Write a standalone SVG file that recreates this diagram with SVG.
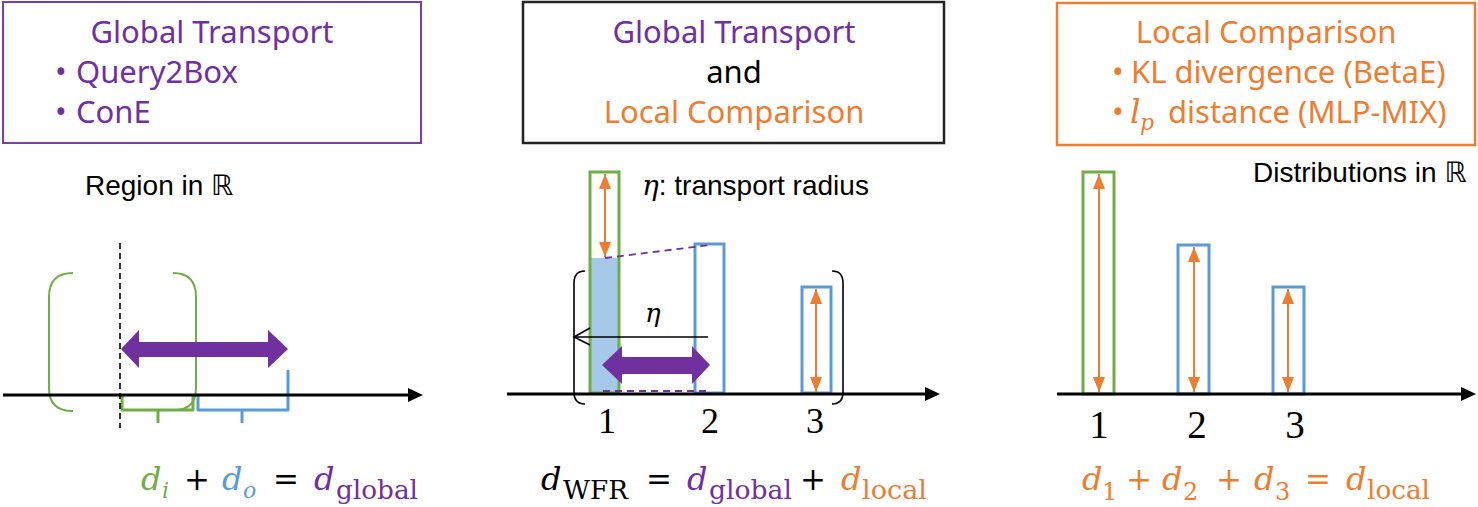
<svg xmlns="http://www.w3.org/2000/svg" width="1478" height="507" viewBox="0 0 1478 507">
<style>
.box{font-family:"Noto Sans","Open Sans",sans-serif;font-size:31px}
.lab{font-family:"Liberation Sans","DejaVu Sans",sans-serif;font-size:28px;fill:#000}
.m{font-family:"DejaVu Serif","Liberation Serif",serif;font-style:italic;font-size:32px}
.mu{font-family:"DejaVu Serif","Liberation Serif",serif;font-size:31px}
.sub{font-family:"DejaVu Serif","Liberation Serif",serif;font-size:26px}
.subi{font-family:"DejaVu Serif","Liberation Serif",serif;font-style:italic;font-size:22px}
.num{font-family:"Liberation Serif","DejaVu Serif",serif;font-size:36px;fill:#000;text-anchor:middle}
.pu{fill:#7030A0}.or{fill:#ED7D31}.gr{fill:#70AD47}.bl{fill:#5B9BD5}.bk{fill:#000}
.axis{stroke:#000;stroke-width:3;fill:none}
.gbar{stroke:#70AD47;stroke-width:3;fill:none}
.bbar{stroke:#5B9BD5;stroke-width:3;fill:none}
.oarr{stroke:#ED7D31;stroke-width:2;fill:none;marker-start:url(#oa);marker-end:url(#oa)}
.pdash{stroke:#7030A0;stroke-width:1.8;fill:none;stroke-dasharray:7,5}
.thin{stroke:#000;stroke-width:1.6;fill:none}
</style>
<defs>
<marker id="oa" viewBox="0 0 15 12" refX="15" refY="6" markerWidth="15" markerHeight="12" markerUnits="userSpaceOnUse" orient="auto-start-reverse">
<path d="M0,0 L15,6 L0,12 z" fill="#ED7D31"/>
</marker>
</defs>
<rect width="1478" height="507" fill="#fff"/>

<!-- Top boxes -->
<g id="box-global">
<rect x="3" y="2" width="418" height="141" fill="#fff" stroke="#7A3DB0" stroke-width="2"/>
<text class="box pu" x="212" y="43" text-anchor="middle">Global Transport</text>
<text class="box pu" x="55" y="83">•</text>
<text class="box pu" x="76" y="83">Query2Box</text>
<text class="box pu" x="55" y="123">•</text>
<text class="box pu" x="76" y="123">ConE</text>
</g>
<g id="box-wfr">
<rect x="523" y="2" width="421" height="141" fill="#fff" stroke="#222" stroke-width="2.5"/>
<text class="box pu" x="734" y="43" text-anchor="middle">Global Transport</text>
<text class="box bk" x="734" y="83" text-anchor="middle">and</text>
<text class="box or" x="734" y="123" text-anchor="middle">Local Comparison</text>
</g>
<g id="box-local">
<rect x="1057" y="3" width="418" height="142" fill="#fff" stroke="#ED7D31" stroke-width="2.5"/>
<text class="box or" x="1266" y="43" text-anchor="middle">Local Comparison</text>
<text class="box or" x="1112" y="83">•</text>
<text class="box or" x="1131" y="83">KL divergence (BetaE)</text>
<text class="box or" x="1112" y="123">•</text>
<text class="m or" x="1130" y="123" style="font-size:33px">l</text>
<text class="subi or" x="1140" y="130">p</text>
<text class="box or" x="1168" y="123">distance (MLP-MIX)</text>
</g>

<!-- Left panel: region -->
<g id="panel-region">
<text class="lab" x="85" y="195">Region in ℝ</text>
<path d="M73,273 Q49,273 49,297 L49,388 Q49,411 73,411" stroke="#70AD47" stroke-width="2" fill="none"/>
<path d="M173,273 Q196,273 196,297 L196,388 Q196,410 174,410" stroke="#70AD47" stroke-width="2" fill="none"/>
<path d="M122,395 V410 H193 V395 M158,410 V423" stroke="#70AD47" stroke-width="3" fill="none" stroke-linejoin="round"/>
<path d="M198,395 V410 H288 V370 M242,410 V423" stroke="#5B9BD5" stroke-width="3" fill="none" stroke-linejoin="round"/>
<path d="M120,243 V428" stroke="#000" stroke-width="1.6" stroke-dasharray="6,4" fill="none"/>
</g>

<!-- Middle panel bars -->
<g id="panel-wfr">
<rect x="590" y="258" width="29" height="135" fill="#A6C8E9"/>
<rect class="gbar" x="590" y="172" width="29" height="221"/>
<rect class="bbar" x="695" y="244" width="29" height="149"/>
<rect class="bbar" x="802" y="287" width="29" height="106"/>
<text class="lab" x="642" y="195"><tspan style="font-family:'DejaVu Serif',serif;font-style:italic">η</tspan>: transport radius</text>
<text class="m bk" x="645" y="322" style="font-size:26px">η</text>
<path class="thin" d="M585,271 Q574,271 574,283 L574,392 Q574,404 585,404"/>
<path class="thin" d="M832,271 Q843,271 843,283 L843,392 Q843,404 832,404"/>
</g>

<!-- Right panel bars -->
<g id="panel-local">
<text class="lab" x="1253" y="182">Distributions in ℝ</text>
<rect class="gbar" x="1083" y="172" width="31" height="222"/>
<rect class="bbar" x="1178" y="245" width="31" height="149"/>
<rect class="bbar" x="1273" y="287" width="31" height="107"/>
</g>

<!-- Connectors / arrows -->
<g id="connectors">
<path class="axis" d="M3,395 H410"/>
<path d="M408,388 L423,395 L408,402 z" fill="#000"/>
<path class="axis" d="M507,394 H927"/>
<path d="M925,387 L940,394 L925,401 z" fill="#000"/>
<path class="axis" d="M1057,394 H1463"/>
<path d="M1461,387 L1476,394 L1461,401 z" fill="#000"/>
<path d="M121,349 L139,330 L139,342 L268,342 L268,330 L288,349 L268,368 L268,357 L139,357 L139,368 z" fill="#7030A0"/>
<path d="M602,365 L622,346 L622,357 L692,357 L692,346 L710,365 L692,384 L692,374 L622,374 L622,384 z" fill="#7030A0"/>
<path class="oarr" d="M605,174 V257"/>
<path class="oarr" d="M816,289 V392"/>
<path class="oarr" d="M1099,174 V392"/>
<path class="oarr" d="M1194,247 V392"/>
<path class="oarr" d="M1288,289 V392"/>
<path class="pdash" d="M605,258 L710,245"/>
<path class="pdash" d="M603,391 H708"/>
<path class="thin" d="M708,337 H574 M590,328 L574,337 L590,345"/>
</g>

<!-- Axis labels -->
<g id="labels">
<text class="num" x="607" y="433" style="font-size:36px">1</text>
<text class="num" x="710" y="433" style="font-size:36px">2</text>
<text class="num" x="815" y="433" style="font-size:36px">3</text>
<text class="num" x="1099" y="438" style="font-size:39px">1</text>
<text class="num" x="1197" y="438" style="font-size:39px">2</text>
<text class="num" x="1295" y="438" style="font-size:39px">3</text>
</g>

<!-- Formulas -->
<g id="formula-global">
<text class="m gr" x="141" y="490">d</text>
<text class="subi gr" x="162" y="498">i</text>
<text class="mu bk" x="184" y="490">+</text>
<text class="m bl" x="222" y="490">d</text>
<text class="subi bl" x="243" y="498">o</text>
<text class="mu bk" x="273" y="490">=</text>
<text class="m pu" x="314" y="490">d</text>
<text class="sub pu" x="336" y="499" textLength="82" lengthAdjust="spacingAndGlyphs">global</text>
</g>
<g id="formula-wfr">
<text class="m bk" x="541" y="490">d</text>
<text class="sub bk" x="563" y="499" textLength="65" lengthAdjust="spacingAndGlyphs">WFR</text>
<text class="mu bk" x="646" y="490">=</text>
<text class="m pu" x="687" y="490">d</text>
<text class="sub pu" x="709" y="499" textLength="83" lengthAdjust="spacingAndGlyphs">global</text>
<text class="mu bk" x="800" y="490">+</text>
<text class="m or" x="841" y="490">d</text>
<text class="sub or" x="862" y="499" textLength="65" lengthAdjust="spacingAndGlyphs">local</text>
</g>
<g id="formula-local">
<text class="m or" x="1082" y="490">d</text>
<text class="sub or" x="1102" y="500" style="font-size:24px">1</text>
<text class="mu or" x="1126" y="490">+</text>
<text class="m or" x="1162" y="490">d</text>
<text class="sub or" x="1183" y="500" style="font-size:24px">2</text>
<text class="mu or" x="1216" y="490">+</text>
<text class="m or" x="1254" y="490">d</text>
<text class="sub or" x="1275" y="500" style="font-size:24px">3</text>
<text class="mu or" x="1305" y="490">=</text>
<text class="m or" x="1346" y="490">d</text>
<text class="sub or" x="1367" y="499" textLength="63" lengthAdjust="spacingAndGlyphs">local</text>
</g>
</svg>
